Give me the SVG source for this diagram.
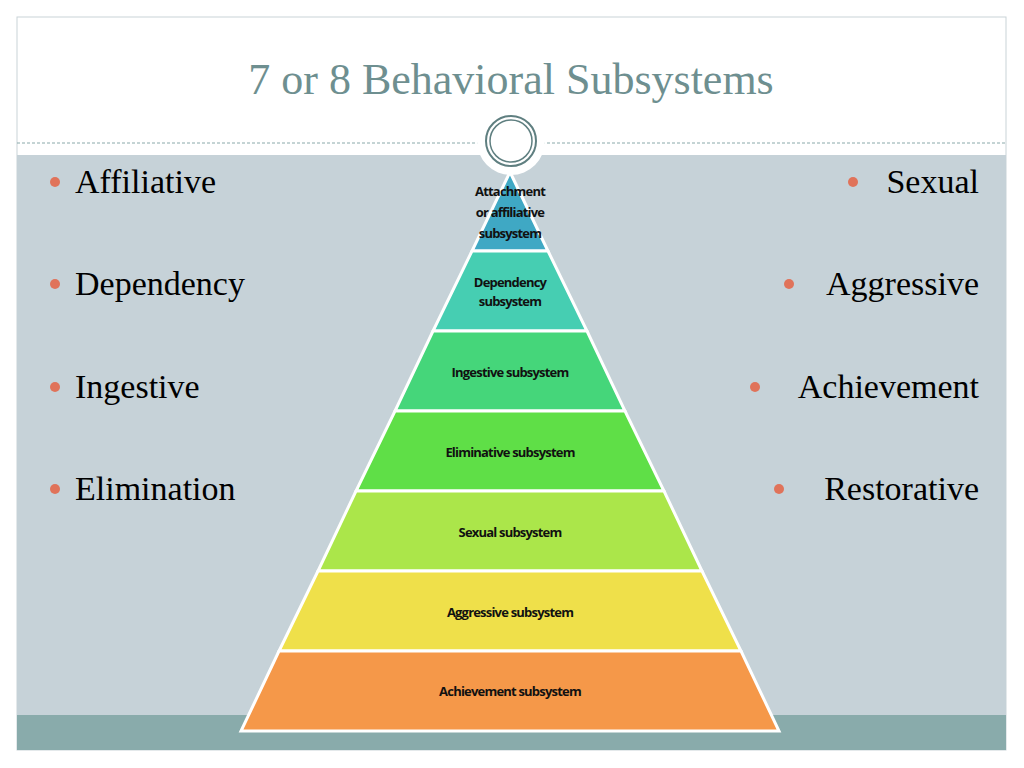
<svg xmlns="http://www.w3.org/2000/svg" width="1024" height="768" viewBox="0 0 1024 768">
<style>
.b{font-family:"Liberation Serif",serif;font-size:34px;fill:#000}
.d{fill:#e0735a}
.p{stroke:#fff;stroke-width:3}
.l{font-family:"Open Sans","DejaVu Sans",sans-serif;font-weight:bold;font-size:13px;fill:#111;text-anchor:middle;letter-spacing:-0.8px}
</style>
<rect width="1024" height="768" fill="#fff"/>
<rect x="17" y="17" width="989" height="733" fill="#fff" stroke="#c9d3d7"/>
<rect x="17" y="155" width="989" height="560" fill="#c6d2d8"/>
<rect x="17" y="715" width="989" height="35" fill="#89abab"/>
<line x1="17" y1="143" x2="1006" y2="143" stroke="#8aa9aa" stroke-dasharray="3,2"/>
<circle cx="511" cy="141" r="34" fill="#fff"/>
<circle cx="511" cy="141" r="25" fill="#fff" stroke="#5f7f80" stroke-width="2"/>
<circle cx="511" cy="141" r="21" fill="none" stroke="#5f7f80" stroke-width="1.5"/>
<text x="511" y="94" font-family="Liberation Serif,serif" font-size="44" fill="#6e8f90" text-anchor="middle">7 or 8 Behavioral Subsystems</text>
<g id="left">
<circle class="d" cx="55" cy="182" r="5"/><text class="b" x="75" y="193">Affiliative</text>
<circle class="d" cx="55" cy="284" r="5"/><text class="b" x="75" y="295">Dependency</text>
<circle class="d" cx="55" cy="387" r="5"/><text class="b" x="75" y="398">Ingestive</text>
<circle class="d" cx="55" cy="489" r="5"/><text class="b" x="75" y="500">Elimination</text>
</g>
<g id="right" text-anchor="end">
<circle class="d" cx="853" cy="182" r="5"/><text class="b" x="979" y="193">Sexual</text>
<circle class="d" cx="789" cy="284" r="5"/><text class="b" x="979" y="295">Aggressive</text>
<circle class="d" cx="755" cy="387" r="5"/><text class="b" x="979" y="398">Achievement</text>
<circle class="d" cx="779" cy="489" r="5"/><text class="b" x="979" y="500">Restorative</text>
</g>
<g id="pyramid">
<polygon class="p" fill="#3fa8c4" points="510,172 548,251 472,251"/>
<polygon class="p" fill="#46ceb2" points="472,251 548,251 587,331 433,331"/>
<polygon class="p" fill="#45d67a" points="433,331 587,331 625,411 395,411"/>
<polygon class="p" fill="#5fdf47" points="395,411 625,411 664,491 356,491"/>
<polygon class="p" fill="#abe64a" points="356,491 664,491 702,571 318,571"/>
<polygon class="p" fill="#efe04a" points="318,571 702,571 741,651 279,651"/>
<polygon class="p" fill="#f59849" points="279,651 741,651 779,731 241,731"/>
<text class="l" x="510" y="196">Attachment</text>
<text class="l" x="510" y="217">or affiliative</text>
<text class="l" x="510" y="238">subsystem</text>
<text class="l" x="510" y="287">Dependency</text>
<text class="l" x="510" y="306">subsystem</text>
<text class="l" x="510" y="377">Ingestive subsystem</text>
<text class="l" x="510" y="457">Eliminative subsystem</text>
<text class="l" x="510" y="537">Sexual subsystem</text>
<text class="l" x="510" y="617">Aggressive subsystem</text>
<text class="l" x="510" y="696">Achievement subsystem</text>
</g>
</svg>
